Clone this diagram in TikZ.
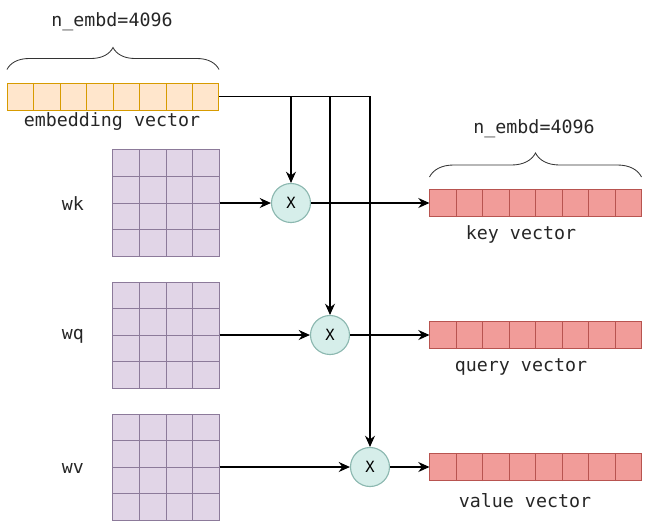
\documentclass[tikz,border=0pt]{standalone}
\usepackage{fontspec}
\usepackage{tikz}
\usetikzlibrary{calc,arrows.meta,decorations.pathreplacing}
\newfontfamily\codefont{DejaVu Sans Mono}
\definecolor{embfill}{HTML}{FFE6CC}
\definecolor{embline}{HTML}{D79B00}
\definecolor{matfill}{HTML}{E1D5E7}
\definecolor{matline}{HTML}{8C7A9A}
\definecolor{mulfill}{HTML}{D6EEEA}
\definecolor{mulline}{HTML}{8CB8B0}
\definecolor{outfill}{HTML}{F19C99}
\definecolor{outline}{HTML}{B85450}
\tikzset{
	vecbox/.style={draw, line width=0.7pt, inner sep=0pt, minimum width=5.275cm, minimum height=0.675cm},
	matbox/.style={draw=matline, fill=matfill, line width=0.7pt, inner sep=0pt, minimum size=2.65cm},
	mulnode/.style={circle, draw=mulline, fill=mulfill, line width=0.8pt, inner sep=0pt, minimum size=0.975cm, font=\codefont\fontsize{11}{12}\selectfont},
	lbl/.style={font=\codefont\fontsize{13}{15}\selectfont, inner sep=0pt, text=black!85},
	flow/.style={-{Stealth[length=2.8mm,width=2.5mm]}, line width=0.8pt},
	brc/.style={decorate, decoration={brace, amplitude=#1}, line width=0.6pt, draw=black!80}
}
\begin{document}
\begin{tikzpicture}[x=0.025cm,y=-0.025cm]
	\useasboundingbox (0,0) rectangle (651,527);
	% vectors
	\node[vecbox, draw=embline, fill=embfill] (emb) at (113,96.5) {};
	\node[vecbox, draw=outline, fill=outfill] (key) at (535.5,203) {};
	\node[vecbox, draw=outline, fill=outfill] (query) at (535.5,335) {};
	\node[vecbox, draw=outline, fill=outfill] (value) at (535.5,467) {};
	\foreach \v/\c in {emb/embline,key/outline,query/outline,value/outline}
		\foreach \i in {1,...,7}
			\draw[\c, line width=0.6pt] ($(\v.south west)!\i/8!(\v.south east)$) -- ($(\v.north west)!\i/8!(\v.north east)$);
	% weight matrices
	\node[matbox] (wk) at (166,203) {};
	\node[matbox] (wq) at (166,335) {};
	\node[matbox] (wv) at (166,467) {};
	\foreach \m in {wk,wq,wv}
		\foreach \i in {1,2,3}{
			\draw[matline, line width=0.6pt] ($(\m.south west)!\i/4!(\m.south east)$) -- ($(\m.north west)!\i/4!(\m.north east)$);
			\draw[matline, line width=0.6pt] ($(\m.south west)!\i/4!(\m.north west)$) -- ($(\m.south east)!\i/4!(\m.north east)$);
		}
	% multiplications
	\node[mulnode] (xk) at (291,203) {X};
	\node[mulnode] (xq) at (330,335) {X};
	\node[mulnode] (xv) at (370,467) {X};
	% labels
	\node[lbl] (embtxt) at (112,122) {embedding vector};
	\node[lbl] (wktxt) at (73,204) {wk};
	\node[lbl] (wqtxt) at (73,336) {wq};
	\node[lbl] (wvtxt) at (73,468) {wv};
	\node[lbl] (keytxt) at (521,234) {key vector};
	\node[lbl] (querytxt) at (521,367) {query vector};
	\node[lbl] (valuetxt) at (525,501) {value vector};
	\node[lbl] (toptxt) at (112,22) {n\_embd=4096};
	\node[lbl] (righttxt) at (534,129) {n\_embd=4096};
	% braces
	\draw[brc=0.55cm] ($(emb.north west)+(0,-13)$) -- ($(emb.north east)+(0,-13)$);
	\draw[brc=0.6cm] ($(key.north west)+(0,-12)$) -- ($(key.north east)+(0,-12)$);
	% connectors
	\draw[flow] (emb.east) -| (xk.north);
	\draw[flow] (emb.east) -| (xq.north);
	\draw[flow] (emb.east) -| (xv.north);
	\draw[flow] (wk.east) -- (xk.west);
	\draw[flow] (wq.east) -- (xq.west);
	\draw[flow] (wv.east) -- (xv.west);
	\draw[flow] (xk.east) -- (key.west);
	\draw[flow] (xq.east) -- (query.west);
	\draw[flow] (xv.east) -- (value.west);
\end{tikzpicture}
\end{document}
